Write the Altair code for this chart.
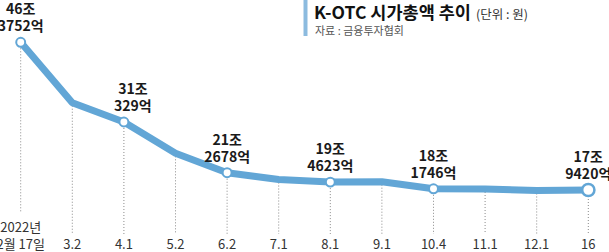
import altair as alt
import pandas as pd

dates = ["2022년\n2월 17일", "3.2", "4.1", "5.2", "6.2", "7.1", "8.1", "9.1", "10.4", "11.1", "12.1", "16"]
values = [46.3752, 34.74, 31.0329, 25.0, 21.2678, 19.96, 19.4623, 19.54, 18.1746, 18.13, 17.85, 17.942]
labels = ["46조\n3752억", "", "31조\n329억", "", "21조\n2678억", "", "19조\n4623억", "", "18조\n1746억", "", "", "17조\n9420억"]

title_text = "K-OTC 시가총액 추이"
unit_text = "(단위 : 원)"
source_text = "자료 : 금융투자협회"

df = pd.DataFrame({"date": dates, "value": values, "label": labels,
                   "idx": list(range(len(dates))),
                   "marked": [lab != "" for lab in labels]})

FONT = "Noto Sans CJK KR, sans-serif"
BLUE = "#62a6d6"

x = alt.X("date:N", sort=dates, axis=None,
          scale=alt.Scale(type="point", domain=dates, range=[20.7, 588.3], padding=0))
y = alt.Y("value:Q", axis=None,
          scale=alt.Scale(domain=[17.942, 46.3752], range=[190, 42.3], zero=False, nice=False))

base = alt.Chart(df)

rules_first = base.transform_filter("datum.idx == 0").mark_rule(
    color="#8a8a8a", strokeDash=[1, 2], strokeWidth=1
).encode(x=x, y=y, y2=alt.value(212))

rules_rest = base.transform_filter("datum.idx > 0").mark_rule(
    color="#8a8a8a", strokeDash=[1, 2], strokeWidth=1
).encode(x=x, y=y, y2=alt.value(234))

line = base.mark_line(color=BLUE, strokeWidth=7, interpolate="linear",
                      strokeJoin="round", strokeCap="round").encode(x=x, y=y)

pts = base.transform_filter("datum.marked && datum.idx < 11").mark_circle(
    fill="white", stroke=BLUE, strokeWidth=2, size=80, opacity=1, fillOpacity=1, strokeOpacity=1
).encode(x=x, y=y)

pt_last = base.transform_filter("datum.idx == 11").mark_circle(
    fill="white", stroke=BLUE, strokeWidth=2.5, size=150, opacity=1, fillOpacity=1, strokeOpacity=1
).encode(x=x, y=y)

lab_common = dict(font=FONT, fontSize=14, fontWeight="bold", color="#1a1a1a",
                  baseline="alphabetic", lineBreak="\n", lineHeight=17, align="center")

data_labels = base.transform_filter("datum.marked && datum.idx != 2").mark_text(
    dy=-28, **lab_common
).encode(x=x, y=y, text="label:N")

data_label_41 = base.transform_filter("datum.idx == 2").mark_text(
    dy=-28, dx=9, **lab_common
).encode(x=x, y=y, text="label:N")

ax_common = dict(font=FONT, fontSize=13, color="#333333", baseline="alphabetic",
                 lineBreak="\n", lineHeight=17, align="center")

axis_first = base.transform_filter("datum.idx == 0").mark_text(**ax_common).encode(
    x=x, y=alt.value(232), text="date:N")

axis_rest = base.transform_filter("datum.idx > 0").mark_text(**ax_common).encode(
    x=x, y=alt.value(249), text="date:N")

one = pd.DataFrame({"a": [0]})

bar = alt.Chart(one).mark_rule(color="#8cbbdf", strokeWidth=4).encode(
    x=alt.value(305.5), y=alt.value(0), y2=alt.value(36))

title = alt.Chart(one).mark_text(
    text=title_text, font=FONT, fontSize=17.5, fontWeight="bold", color="#111111",
    align="left", baseline="alphabetic"
).encode(x=alt.value(314), y=alt.value(19))

unit = alt.Chart(one).mark_text(
    text=unit_text, font=FONT, fontSize=12.5, color="#333333",
    align="left", baseline="alphabetic"
).encode(x=alt.value(476), y=alt.value(19))

source = alt.Chart(one).mark_text(
    text=source_text, font=FONT, fontSize=11, color="#555555",
    align="left", baseline="alphabetic"
).encode(x=alt.value(315), y=alt.value(35))

chart = alt.layer(
    rules_first, rules_rest, line, pts, pt_last, data_labels, data_label_41,
    axis_first, axis_rest, bar, title, unit, source
).properties(
    width=609, height=252, autosize="none", padding=0, background="white"
).configure_view(stroke=None)

chart.save("out.html", embed_options={"renderer": "svg", "actions": False})
